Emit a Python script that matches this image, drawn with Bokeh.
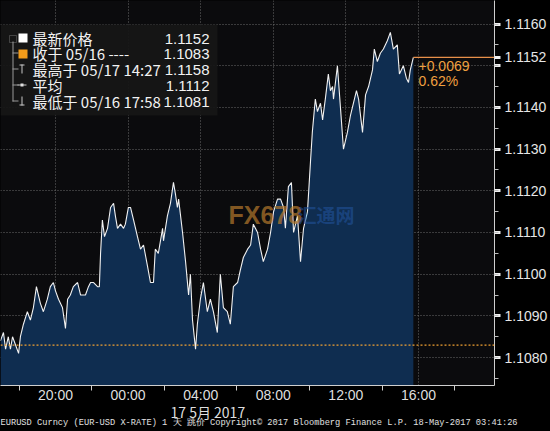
import pandas as pd
from bokeh.plotting import figure
from bokeh.models import (Range1d, FixedTicker, DatetimeTickFormatter, NumeralTickFormatter,
                          Label, BoxAnnotation, Span, Title, GlobalInlineStyleSheet)
from bokeh.embed import file_html
from bokeh.resources import INLINE

# ---------------- data ----------------
times_0516 = ["16:58", "17:08", "17:15", "17:24", "17:31", "17:38", "17:48", "17:58", "18:04", "18:14",
              "18:27", "18:37", "18:47", "18:57", "19:10", "19:20", "19:33", "19:43", "19:53", "20:00",
              "20:10", "20:23", "20:33", "20:40", "20:49", "20:59", "21:13", "21:23", "21:39", "21:49",
              "21:56", "22:06", "22:19", "22:25", "22:29", "22:35", "22:42", "22:52", "23:02", "23:12",
              "23:18", "23:25", "23:35", "23:45", "23:51"]
prices_0516 = [1.1084, 1.1086, 1.1082, 1.1085, 1.1082, 1.1085, 1.1083, 1.1081, 1.1085, 1.1088,
               1.1091, 1.1089, 1.1092, 1.1097, 1.1093, 1.1091, 1.1094, 1.1097, 1.1098, 1.1096,
               1.1094, 1.1092, 1.1087, 1.1094, 1.1095, 1.1097, 1.1098, 1.1095, 1.1095, 1.1097,
               1.1098, 1.1098, 1.1097, 1.1097, 1.1105, 1.1113, 1.1109, 1.1111, 1.1116, 1.1117,
               1.1114, 1.1111, 1.1112, 1.1111, 1.1112]

times_0517 = ["00:01", "00:08", "00:18", "00:31", "00:41", "00:51", "01:04", "01:14", "01:24", "01:30",
              "01:40", "01:54", "01:57", "02:10", "02:20", "02:30", "02:37", "02:43", "02:47", "03:00",
              "03:10", "03:20", "03:26", "03:33", "03:43", "03:49", "03:59", "04:09", "04:22", "04:32",
              "04:42", "04:55", "05:05", "05:15", "05:28", "05:38", "05:48", "06:02", "06:11", "06:21",
              "06:35", "06:45", "06:54", "07:08", "07:18", "07:27", "07:41", "07:51", "08:01", "08:14",
              "08:24", "08:34", "08:40", "08:50", "09:00", "09:07", "09:20", "09:30", "09:40", "09:53",
              "10:03", "10:09", "10:19", "10:26", "10:36", "10:43", "10:52", "11:02", "11:09", "11:16",
              "11:19", "11:32", "11:42", "11:52", "12:05", "12:15", "12:25", "12:35", "12:42", "12:55",
              "13:05", "13:15", "13:28", "13:34", "13:44", "13:54", "14:04", "14:17", "14:27", "14:37",
              "14:50", "14:57", "15:10", "15:20", "15:27", "15:33", "15:43"]
prices_0517 = [1.1116, 1.1116, 1.1113, 1.1109, 1.1106, 1.1107, 1.1102, 1.1098, 1.1098, 1.1106,
               1.1105, 1.1111, 1.1108, 1.1114, 1.1117, 1.1122, 1.1119, 1.1116, 1.1118, 1.1110,
               1.1103, 1.1095, 1.1100, 1.1089, 1.1082, 1.1088, 1.1094, 1.1098, 1.1091, 1.1094,
               1.1091, 1.1086, 1.1100, 1.1092, 1.1091, 1.1088, 1.1097, 1.1098, 1.1101, 1.1104,
               1.1106, 1.1107, 1.1112, 1.1110, 1.1106, 1.1103, 1.1106, 1.1110, 1.1115, 1.1118,
               1.1118, 1.1116, 1.1111, 1.1121, 1.1122, 1.1110, 1.1114, 1.1103, 1.1111, 1.1115,
               1.1127, 1.1134, 1.1142, 1.1139, 1.1141, 1.1137, 1.1142, 1.1148, 1.1144, 1.1145,
               1.1142, 1.1150, 1.1140, 1.1130, 1.1134, 1.1138, 1.1141, 1.1144, 1.1142, 1.1134,
               1.1143, 1.1145, 1.1149, 1.1154, 1.1151, 1.1153, 1.1154, 1.1156, 1.1158, 1.1154,
               1.1155, 1.1148, 1.1150, 1.1147, 1.1146, 1.1149, 1.1152]

prev_close = 1.1083
avg_price = 1.1112
x_tick_times = ["2017-05-16 20:00", "2017-05-17 00:00", "2017-05-17 04:00",
                "2017-05-17 08:00", "2017-05-17 12:00", "2017-05-17 16:00"]
x_minor_times = ["2017-05-16 18:00", "2017-05-16 22:00", "2017-05-17 02:00", "2017-05-17 06:00",
                 "2017-05-17 10:00", "2017-05-17 14:00", "2017-05-17 18:00"]
y_tick_values = [1.1080, 1.1090, 1.1100, 1.1110, 1.1120, 1.1130, 1.1140, 1.1150, 1.1160]
y_minor_values = [1.1075, 1.1080, 1.1085, 1.1090, 1.1095, 1.1100, 1.1105, 1.1110, 1.1115,
                  1.1120, 1.1125, 1.1130, 1.1135, 1.1140, 1.1145, 1.1150, 1.1155, 1.1160]
date_text = "17 5月 2017"
footer_text = "EURUSD Curncy (EUR-USD X-RATE) 1 天  跳价 Copyright© 2017 Bloomberg Finance L.P. 18-May-2017 03:41:26"

# ---------------- build ----------------
times = pd.to_datetime(["2017-05-16 " + s for s in times_0516] + ["2017-05-17 " + s for s in times_0517])
prices = prices_0516 + prices_0517
assert len(times) == len(prices)
last_price = prices[-1]


def ms(ts):
    return pd.Timestamp(ts).value / 1e6


x_start = pd.Timestamp("2017-05-16 16:58:12")
x_end = pd.Timestamp("2017-05-17 20:11:18")

p = figure(frame_width=494, frame_height=385, x_axis_type="datetime", y_axis_location="right",
           x_range=Range1d(x_start, x_end), y_range=Range1d(1.10733, 1.116564),
           output_backend="svg", toolbar_location=None,
           min_border_left=0, min_border_top=0, min_border_right=56, min_border_bottom=0,
           background_fill_color="#0b0b0d", border_fill_color="#000000", outline_line_color=None)
p.stylesheets.append(GlobalInlineStyleSheet(css="html, body { background: #000000; }"))

FONT = "Liberation Sans"
CJK = "Noto Sans CJK SC"

# axes
p.xaxis.ticker = FixedTicker(ticks=[ms(t) for t in x_tick_times], minor_ticks=[ms(t) for t in x_minor_times])
p.xaxis.formatter = DatetimeTickFormatter(hours="%H:%M", hourmin="%H:%M", days="%H:%M",
                                          minutes="%H:%M", months="%H:%M")
p.xaxis.major_tick_out = 0
p.xaxis.major_tick_in = 0
p.xaxis.minor_tick_out = 5
p.xaxis.minor_tick_in = 0
p.xaxis.minor_tick_line_color = "#cfcfcf"
p.xaxis.axis_line_color = "#cfcfcf"
p.xaxis.major_label_text_color = "#dedede"
p.xaxis.major_label_text_font = FONT
p.xaxis.major_label_text_font_size = "14px"
p.xaxis.major_label_standoff = -4

# y axis: the last price is shown as its own tick label (it covers 1.1150 in the reference)
y_label_ticks = y_tick_values + [last_price]
p.yaxis.ticker = FixedTicker(ticks=y_label_ticks, minor_ticks=y_minor_values)
p.yaxis.formatter = NumeralTickFormatter(format="0.0000")
p.yaxis.major_label_overrides = {1.115: ""}
p.yaxis.major_tick_out = 6
p.yaxis.major_tick_in = 0
p.yaxis.major_tick_line_width = 3
p.yaxis.major_tick_line_color = "#f0f0f0"
p.yaxis.minor_tick_out = 4
p.yaxis.minor_tick_in = 0
p.yaxis.minor_tick_line_color = "#bdbdbd"
p.yaxis.axis_line_color = "#cfcfcf"
p.yaxis.major_label_text_color = "#e6e6e6"
p.yaxis.major_label_text_font = FONT
p.yaxis.major_label_text_font_size = "14px"
p.yaxis.major_label_standoff = 4

p.grid.grid_line_color = "#6b6b6b"
p.grid.grid_line_dash = "1 2"
p.grid.grid_line_width = 1
p.ygrid.ticker = FixedTicker(ticks=y_tick_values)

# series
p.varea(x=times, y1=1.105, y2=prices, fill_color="#0f2d50", fill_alpha=1.0)
p.line(x=times, y=prices, line_color="#f2f2f2", line_width=1.1)

# previous close (dotted orange)
p.add_layout(Span(location=prev_close, dimension="width", line_color="#f0a030",
                  line_dash="2 2", line_width=1.2))

p.segment(x0=[times[-1]], y0=[last_price], x1=[x_end], y1=[last_price],
          line_color="#e8904a", line_width=1.2)

change = last_price - prev_close
pct = change / prev_close * 100
p.add_layout(Label(x=418, y=320, x_units="screen", y_units="screen", text=f"{change:+.4f}",
                   text_color="#f0a040", text_font=FONT, text_font_size="14px",
                   text_baseline="middle"))
p.add_layout(Label(x=418, y=305, x_units="screen", y_units="screen", text=f"{pct:.2f}%",
                   text_color="#f0a040", text_font=FONT, text_font_size="14px",
                   text_baseline="middle"))

# watermark
p.add_layout(Label(x=228, y=171, x_units="screen", y_units="screen", text="FX678",
                   text_color="#b87a2c", text_alpha=0.7, text_font=FONT,
                   text_font_style="bold", text_font_size="25px", text_baseline="middle"))
p.add_layout(Label(x=297, y=171, x_units="screen", y_units="screen", text="汇通网",
                   text_color="#1f4f96", text_alpha=0.65, text_font=CJK,
                   text_font_style="bold", text_font_size="19px", text_baseline="middle"))


# legend box (top left)
def sbox(l, r, b, t, **kw):
    kw.setdefault("line_color", None)
    p.add_layout(BoxAnnotation(left=l, right=r, bottom=b, top=t, left_units="screen",
                               right_units="screen", bottom_units="screen", top_units="screen",
                               **kw))


sbox(0, 217, 270, 361, fill_color="#161616", fill_alpha=0.95)
sbox(12, 13, 284, 344, fill_color="#9a9a9a", fill_alpha=1)
for yy in [332, 316, 300, 284]:
    sbox(12, 18, yy, yy + 1, fill_color="#9a9a9a", fill_alpha=1)
sbox(9, 16, 343, 350, fill_alpha=0, line_color="#b0b0b0", line_width=1)
sbox(18, 27, 343, 352, fill_color="#ffffff", fill_alpha=1)
sbox(18, 27, 327, 336, fill_color="#f39c1a", fill_alpha=1)
sbox(21, 22, 312, 321, fill_color="#c8c8c8", fill_alpha=1)
sbox(19, 24, 320, 321, fill_color="#c8c8c8", fill_alpha=1)
sbox(17, 26, 300, 301, fill_color="#c8c8c8", fill_alpha=1)
sbox(20, 23, 299, 302, fill_color="#e0e0e0", fill_alpha=1)
sbox(21, 22, 280, 289, fill_color="#c8c8c8", fill_alpha=1)
sbox(19, 24, 280, 281, fill_color="#c8c8c8", fill_alpha=1)

hi_i = max(range(len(prices)), key=lambda i: prices[i])
lo_i = min(range(len(prices)), key=lambda i: prices[i])
legend_left = ["最新价格",
               "收于 05/16 ----",
               "最高于 " + times[hi_i].strftime("%m/%d %H:%M"),
               "平均",
               "最低于 " + times[lo_i].strftime("%m/%d %H:%M")]
legend_vals = [last_price, prev_close, prices[hi_i], avg_price, prices[lo_i]]
row_y = [347, 332, 316, 300, 284]
for txt, val, yy in zip(legend_left, legend_vals, row_y):
    p.add_layout(Label(x=32, y=yy, x_units="screen", y_units="screen", text=txt,
                       text_color="#f2f2f2", text_font=CJK, text_font_size="15px",
                       text_baseline="middle"))
    p.add_layout(Label(x=209, y=yy, x_units="screen", y_units="screen", text=f"{val:.4f}",
                       text_color="#f2f2f2", text_font=FONT, text_font_size="15px",
                       text_baseline="middle", text_align="right"))

# date and footer below the axis
p.add_layout(Title(text=date_text, align="left", offset=170, standoff=-12, text_color="#dedede",
                   text_font=CJK, text_font_size="14px", text_font_style="normal"), "below")
p.add_layout(Title(text=footer_text, align="left", offset=0, standoff=1, text_color="#e0e0e0",
                   text_font="Liberation Mono", text_font_size="8.7px", text_font_style="normal"),
             "below")

open("out.html", "w").write(file_html(p, INLINE))
